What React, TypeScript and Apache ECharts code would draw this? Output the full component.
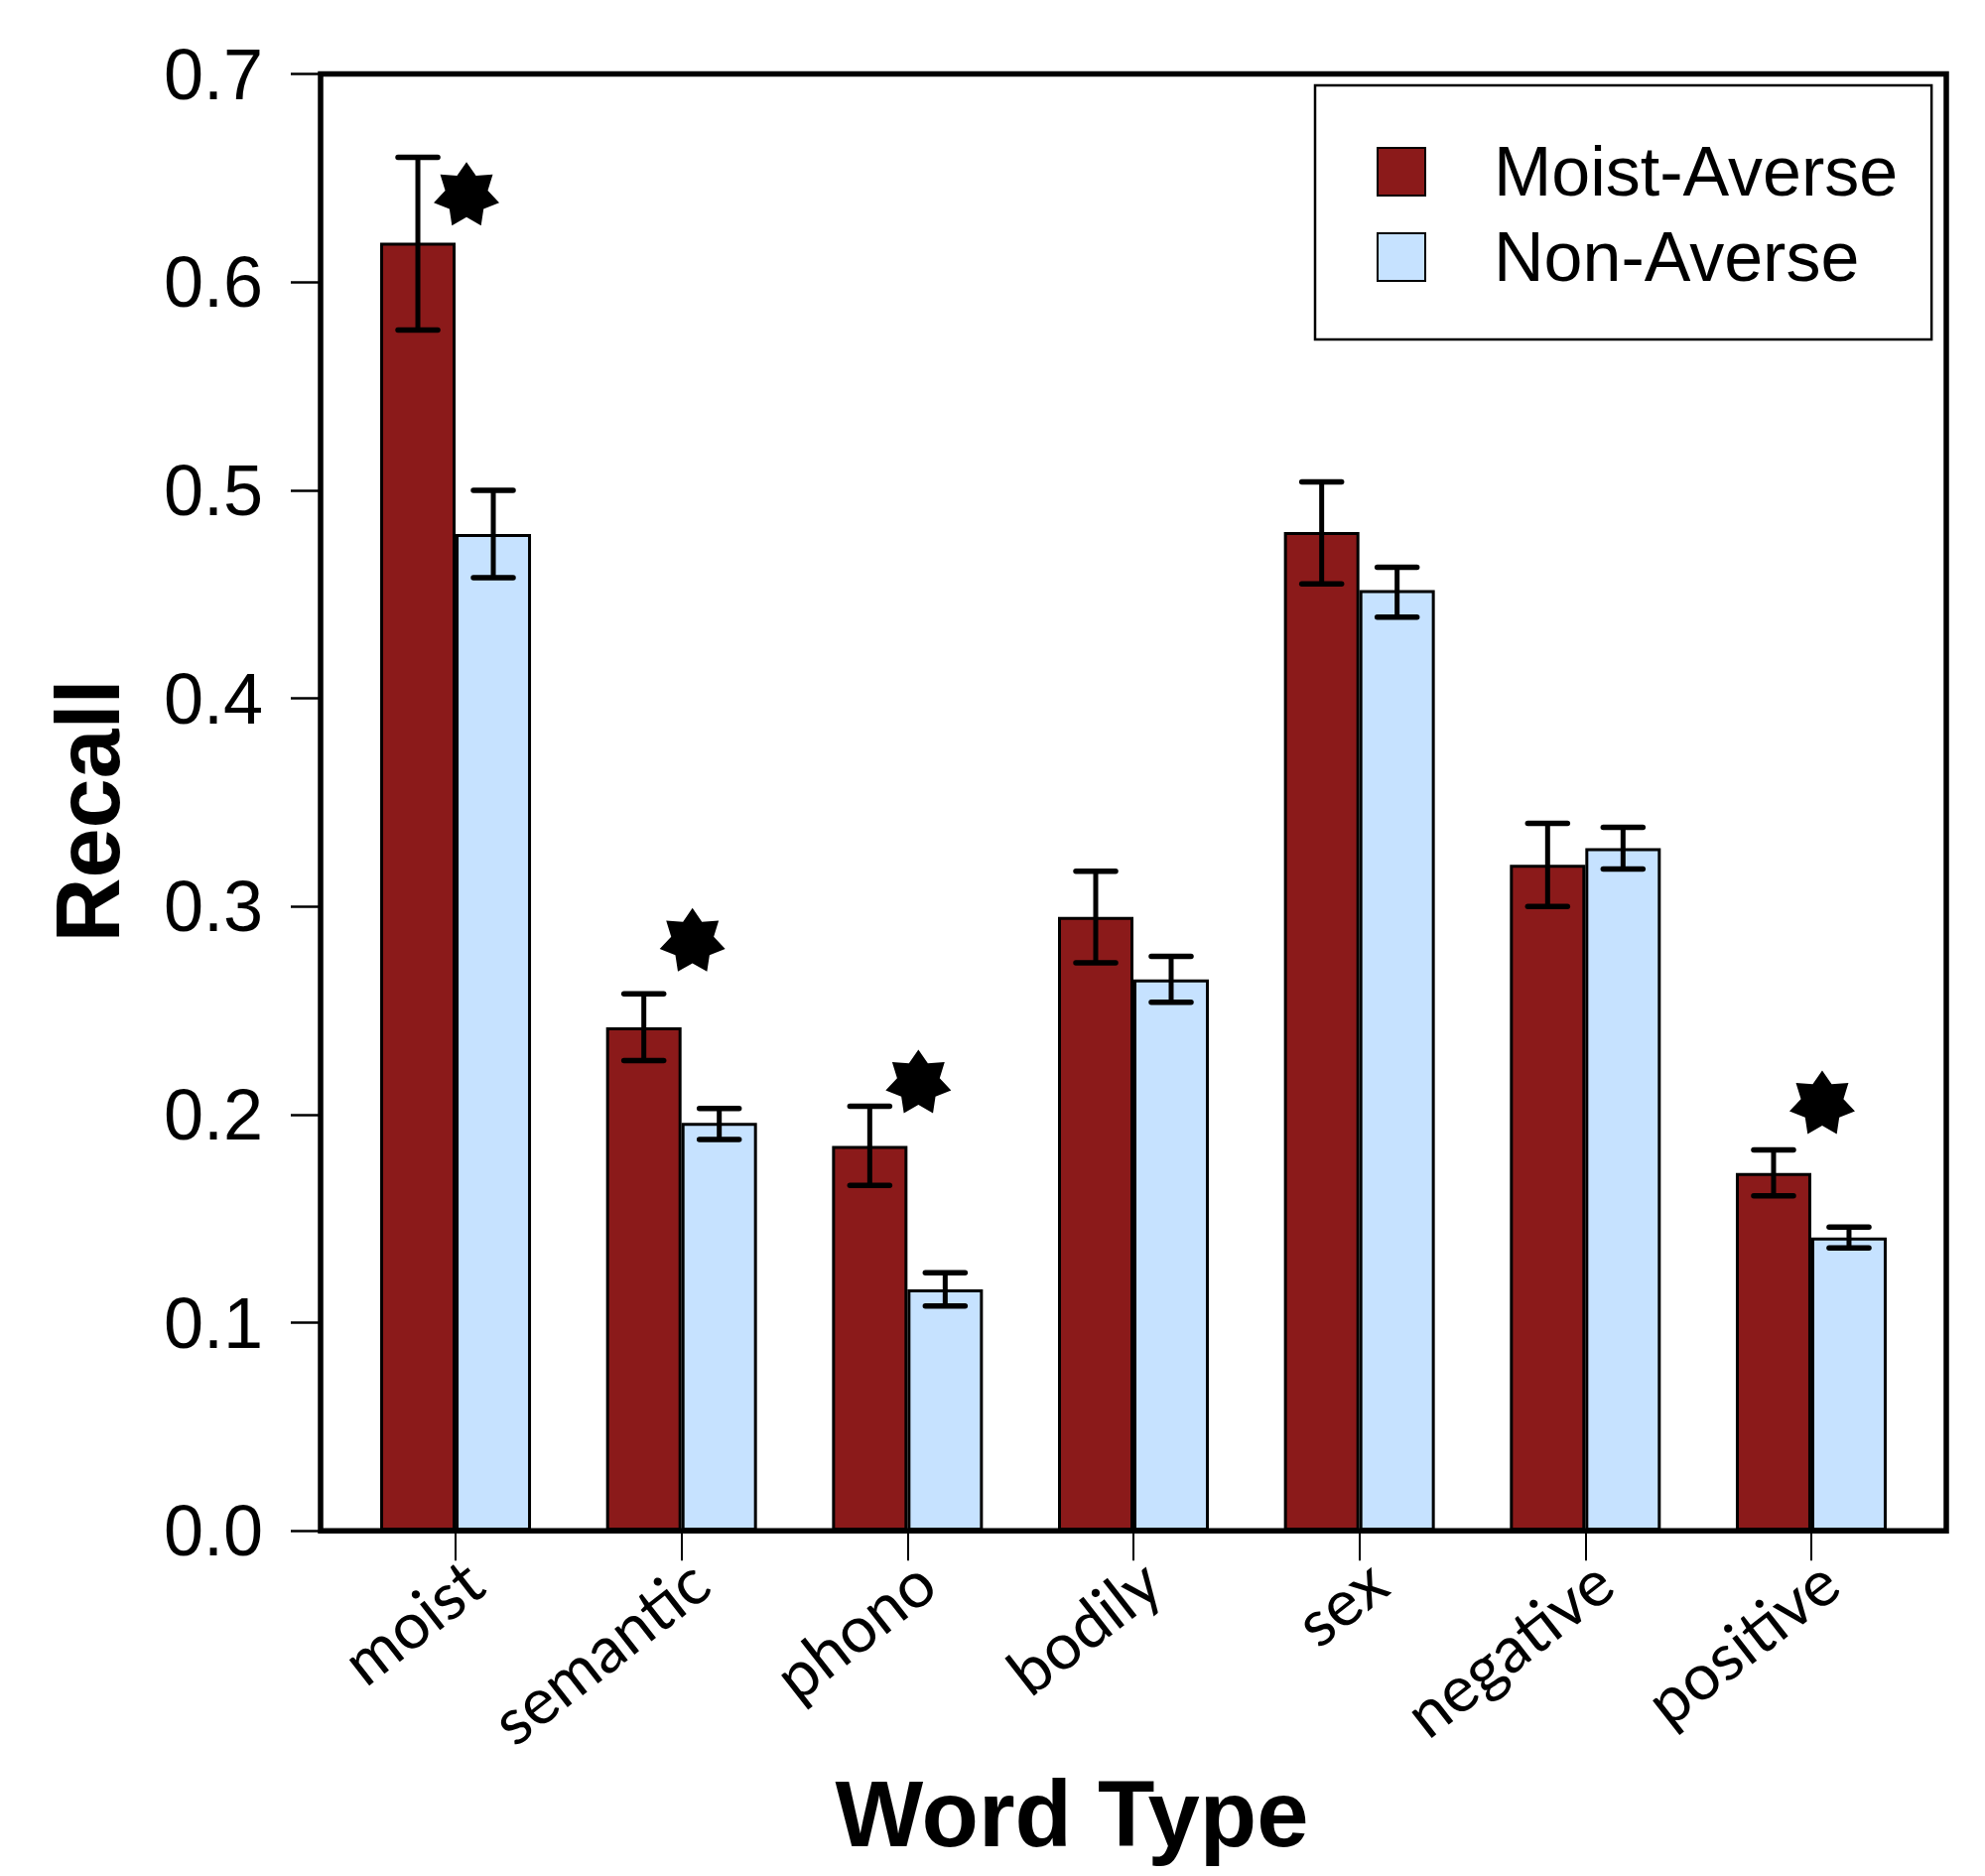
import React, { useEffect, useRef } from "react";
import * as echarts from "echarts";

const categories = ["moist", "semantic", "phono", "bodily", "sex", "negative", "positive"];
const seriesNames = ["Moist-Averse", "Non-Averse"];
const moistAverse = [0.619, 0.242, 0.185, 0.295, 0.48, 0.32, 0.172];
const moistAverseLow = [0.577, 0.226, 0.166, 0.273, 0.455, 0.3, 0.161];
const moistAverseHigh = [0.66, 0.258, 0.204, 0.317, 0.504, 0.34, 0.183];
const nonAverse = [0.479, 0.196, 0.116, 0.265, 0.452, 0.328, 0.141];
const nonAverseLow = [0.458, 0.188, 0.108, 0.254, 0.439, 0.318, 0.136];
const nonAverseHigh = [0.5, 0.203, 0.124, 0.276, 0.463, 0.338, 0.146];
const starLevels = [0.6425, 0.284, 0.216, null, null, null, 0.206];

const RED = "#8B1A1A";
const BLUE = "#C6E2FF";
const STAR =
  "path://M50 0 L64.10 20.72 L89.09 18.83 L81.68 42.77 L98.75 61.13 L75.41 70.26 L71.69 95.05 L50 82.5 L28.31 95.05 L24.59 70.26 L1.25 61.13 L18.32 42.77 L10.91 18.83 L35.90 20.72 Z";

const BAR_W = 76;

function errRender(offset: number) {
  return (params: any, api: any) => {
    const x = api.value(0);
    const lo = api.value(1);
    const hi = api.value(2);
    const pHi = api.coord([x, hi]);
    const pLo = api.coord([x, lo]);
    const cx = pHi[0] + offset;
    const hw = 20;
    const st = { stroke: "#000", lineWidth: 5.5, lineCap: "round" };
    return {
      type: "group",
      children: [
        { type: "line", shape: { x1: cx, y1: pHi[1], x2: cx, y2: pLo[1] }, style: { stroke: "#000", lineWidth: 5 } },
        { type: "line", shape: { x1: cx - hw, y1: pHi[1], x2: cx + hw, y2: pHi[1] }, style: st },
        { type: "line", shape: { x1: cx - hw, y1: pLo[1], x2: cx + hw, y2: pLo[1] }, style: st },
      ],
    };
  };
}

export default function App() {
  const ref = useRef<HTMLDivElement>(null);
  useEffect(() => {
    if (!ref.current) return;
    const chart = echarts.init(ref.current, null, { renderer: "svg" });
    const top = 74.6;
    const bottom = 1890 - 1542.3;
    const option: any = {
      animation: false,
      backgroundColor: "#fff",
      grid: [
        { left: 323, right: 39, top, bottom, show: false },
        { left: 345.2, right: 61.2, top, bottom, show: false },
        { left: 363.2, right: 43.2, top, bottom, show: false },
      ],
      xAxis: [
        { type: "category", gridIndex: 0, data: categories, show: false },
        {
          type: "category",
          gridIndex: 1,
          data: categories,
          axisLine: { show: false },
          axisTick: { show: true, alignWithLabel: true, length: 30, lineStyle: { color: "#000", width: 2 } },
          axisLabel: { show: false },
        },
        {
          type: "category",
          gridIndex: 2,
          data: categories,
          axisLine: { show: false },
          axisTick: { show: false },
          axisLabel: {
            rotate: 38,
            margin: 42,
            fontSize: 65,
            fontFamily: "Lato",
            color: "#000",
            interval: 0,
          },
        },
      ],
      yAxis: [
        {
          type: "value",
          gridIndex: 0,
          min: 0,
          max: 0.7,
          interval: 0.1,
          splitLine: { show: false },
          axisLine: { show: false },
          axisTick: { show: true, length: 30, lineStyle: { color: "#000", width: 2.5 } },
          axisLabel: {
            margin: 58,
            fontSize: 72,
            fontFamily: "Liberation Sans",
            color: "#000",
            formatter: (v: number) => v.toFixed(1),
          },
        },
        { type: "value", gridIndex: 1, min: 0, max: 0.7, show: false },
        { type: "value", gridIndex: 2, min: 0, max: 0.7, show: false },
      ],
      legend: {
        data: seriesNames,
        orient: "vertical",
        left: 1325,
        top: 86,
        icon: "rect",
        itemWidth: 48,
        itemHeight: 48,
        itemGap: 16,
        borderColor: "#000",
        borderWidth: 2.5,
        padding: [52, 34, 48, 62],
        textStyle: {
          fontSize: 70,
          fontFamily: "Liberation Sans",
          color: "#000",
          padding: [0, 0, 0, 64],
        },
      },
      series: [
        {
          name: seriesNames[0],
          type: "bar",
          xAxisIndex: 1,
          yAxisIndex: 1,
          data: moistAverse,
          barWidth: BAR_W,
          barGap: "0%",
          itemStyle: { color: RED, borderColor: "#000", borderWidth: 3 },
        },
        {
          name: seriesNames[1],
          type: "bar",
          xAxisIndex: 1,
          yAxisIndex: 1,
          data: nonAverse,
          barWidth: BAR_W,
          barGap: "0%",
          itemStyle: { color: BLUE, borderColor: "#000", borderWidth: 3 },
        },
        {
          type: "custom",
          xAxisIndex: 1,
          yAxisIndex: 1,
          z: 5,
          clip: false,
          renderItem: errRender(-BAR_W / 2),
          data: categories.map((c, i) => [i, moistAverseLow[i], moistAverseHigh[i]]),
        },
        {
          type: "custom",
          xAxisIndex: 1,
          yAxisIndex: 1,
          z: 5,
          clip: false,
          renderItem: errRender(BAR_W / 2),
          data: categories.map((c, i) => [i, nonAverseLow[i], nonAverseHigh[i]]),
        },
        {
          type: "scatter",
          xAxisIndex: 1,
          yAxisIndex: 1,
          z: 6,
          symbol: STAR,
          symbolSize: [66, 64],
          symbolOffset: [11, 0],
          itemStyle: { color: "#000", opacity: 1 },
          data: starLevels
            .map((v, i) => (v == null ? null : [i, v]))
            .filter((d) => d !== null),
        },
      ],
      graphic: [
        {
          type: "rect",
          z: 100,
          shape: { x: 323, y: top, width: 1961 - 323, height: 1542.3 - top },
          style: { fill: "none", stroke: "#000", lineWidth: 5.5 },
        },
        {
          type: "text",
          x: 89,
          y: 817,
          rotation: Math.PI / 2,
          style: {
            text: "Recall",
            fontSize: 90,
            fontWeight: "bold",
            fontFamily: "Liberation Sans",
            fill: "#000",
            align: "center",
            verticalAlign: "middle",
          },
        },
        {
          type: "text",
          x: 1080,
          y: 1827,
          style: {
            text: "Word Type",
            fontSize: 94,
            fontWeight: "bold",
            fontFamily: "Liberation Sans",
            fill: "#000",
            align: "center",
            verticalAlign: "middle",
          },
        },
      ],
    };
    chart.setOption(option);
    return () => chart.dispose();
  }, []);
  return (
    <div
      ref={ref}
      style={{ position: "fixed", left: 0, top: 0, width: 2000, height: 1890, background: "#fff" }}
    />
  );
}
